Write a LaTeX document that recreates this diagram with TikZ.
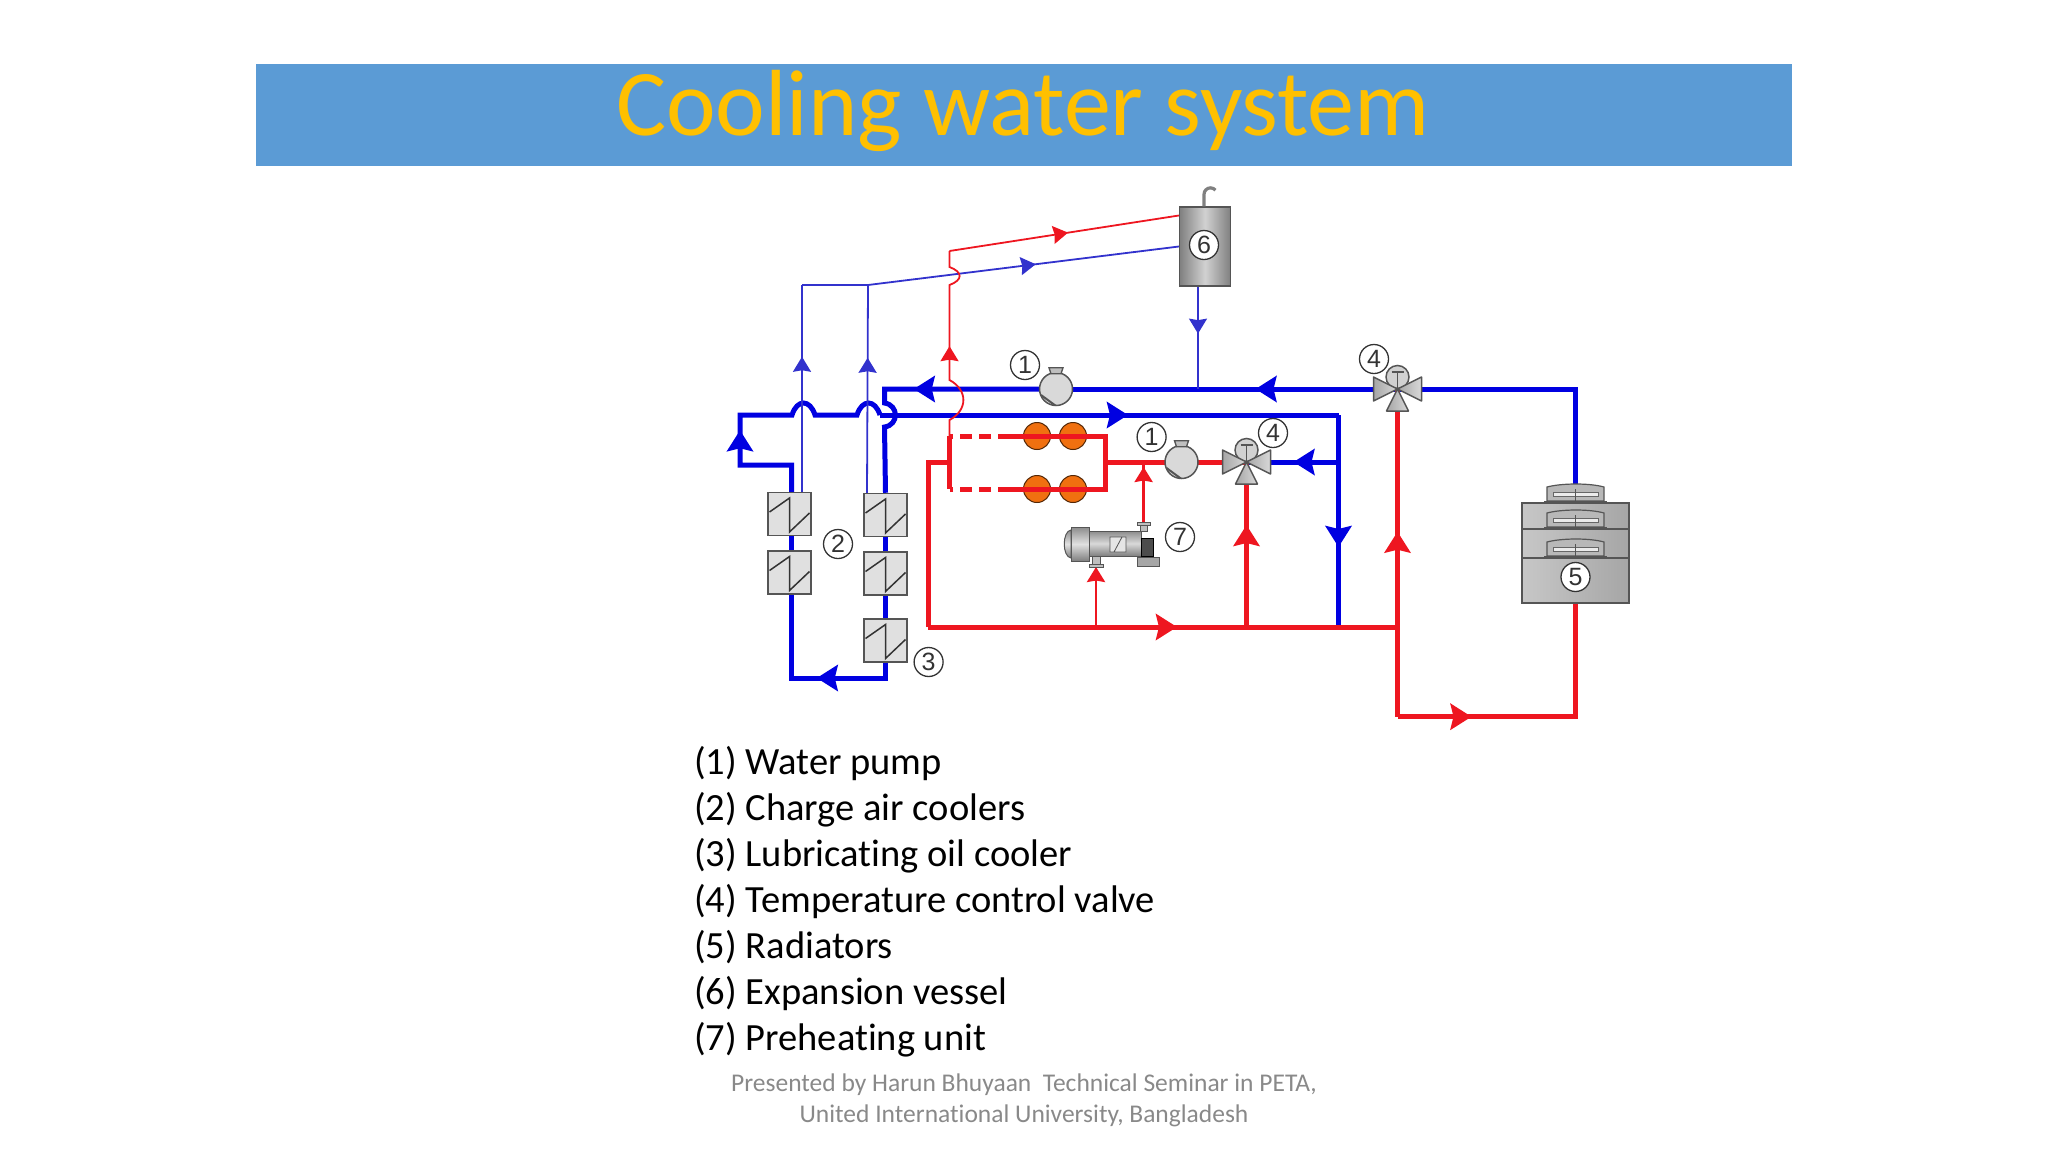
\documentclass[tikz,border=0pt]{standalone}
\usepackage{fontspec}
\setmainfont{Carlito}[Ligatures=NoCommon]
\newfontfamily\calloutfont{Liberation Sans}
\usepackage{tikz}
\usetikzlibrary{arrows.meta,backgrounds,decorations.markings}
\definecolor{HeaderBlue}{RGB}{91,155,213}
\definecolor{TitleGold}{RGB}{255,192,0}
\definecolor{PipeBlue}{RGB}{0,0,225}
\definecolor{PipeRed}{RGB}{238,22,32}
\definecolor{ThinBlue}{RGB}{50,50,205}
\definecolor{CylOrange}{RGB}{240,112,16}
\definecolor{FootGray}{RGB}{137,137,137}
\definecolor{Edge}{RGB}{85,85,85}

\begin{document}
\begin{tikzpicture}[x=1pt,y=-1pt,
  coldpipe/.style={draw=PipeBlue,line width=5pt,line join=miter},
  hotpipe/.style={draw=PipeRed,line width=5pt,line join=miter},
  coldthin/.style={draw=ThinBlue,line width=1.8pt},
  hotthin/.style={draw=PipeRed,line width=1.8pt},
  hotmid/.style={draw=PipeRed,line width=2.8pt},
  bigflow/.style={postaction={decorate,decoration={markings,mark=at position #1 with {\arrow{Stealth[length=21pt,width=26pt,inset=3pt]}}}}},
  smallflow/.style={postaction={decorate,decoration={markings,mark=at position #1 with {\arrow{Stealth[length=15pt,width=18pt,inset=1.5pt]}}}}},
  callout/.style={circle,draw=black!80,fill=white,line width=1.3pt,minimum size=29pt,inner sep=0pt,
                  font=\calloutfont\fontsize{25}{25}\selectfont,text=black!80},
  cooler/.style={draw=Edge,fill=black!12,line width=1.5pt,minimum width=43pt,minimum height=43pt,inner sep=0pt,
                 path picture={\draw[black!80,line width=1.5pt]
                   ([shift={(-20,-2)}]path picture bounding box.center) -- ([shift={(0,-16)}]path picture bounding box.center)
                   -- ([shift={(0,18)}]path picture bounding box.center) -- ([shift={(20,-1)}]path picture bounding box.center);}},
  pump/.style={circle,draw=Edge,fill=black!15,line width=1.5pt,minimum size=33pt,inner sep=0pt,
               path picture={\draw[Edge,line width=2pt]
                 ([shift={(-15,6)}]path picture bounding box.center) -- ([shift={(0,17)}]path picture bounding box.center);}},
  cylinder dot/.style={circle,draw=black!65!CylOrange,fill=CylOrange,line width=1pt,minimum size=27pt,inner sep=0pt},
  valve part/.style={draw=Edge,left color=black!35,right color=black!15,line width=1.5pt,line join=round},
  listtext/.style={anchor=north west,align=left,inner sep=0pt,font=\fontsize{38.5}{46}\selectfont},
]
\useasboundingbox (0,0) rectangle (2048,1152);

% header
\node[fill=HeaderBlue,minimum width=1536pt,minimum height=102pt,inner sep=0pt] (header) at (1024,115) {};
\node[text=TitleGold,font=\fontsize{94}{94}\selectfont,inner sep=0pt] (title) at (1023,110.5) {Cooling water system};

% equipment
\node[draw=Edge,line width=1.3pt,left color=black!50,right color=black!50,middle color=black!18,
      minimum width=51pt,minimum height=79pt,inner sep=0pt] (vessel) at (1205,246.5) {};
\node[callout] (call6) at (1204,245) {6};
\draw[black!50,line width=3.2pt] (vessel.north) ++(-1,0) -- ++(0,-12) arc (180:320:6.5);

\node[pump] (pumpHigh) at (1056,389) {};
\node[pump] (pumpLow) at (1181.5,462) {};
\foreach \p in {pumpHigh,pumpLow}
  \draw[draw=Edge,fill=black!25,line width=1.3pt] ([shift={(-5,2)}]\p.north) -- ([shift={(-7,-4)}]\p.north)
    -- ([shift={(7,-4)}]\p.north) -- ([shift={(5,2)}]\p.north) -- cycle;

\coordinate (valveHigh) at (1397.5,389);
\coordinate (valveLow) at (1246.5,462);
\foreach \v in {valveHigh,valveLow} {
  \draw[draw=Edge,fill=black!18,line width=1.5pt] ([yshift=12pt]\v) circle (11.5);
  \draw[Edge,line width=1.3pt] ([shift={(-6,-17)}]\v) -- ([shift={(6,-17)}]\v) ([shift={(0,-17)}]\v) -- (\v);
  \draw[valve part] (\v) -- ([shift={(-24,-12)}]\v) -- ([shift={(-24,12)}]\v) -- cycle;
  \draw[valve part] (\v) -- ([shift={(24,-12)}]\v) -- ([shift={(24,12)}]\v) -- cycle;
  \draw[valve part] (\v) -- ([shift={(-11,22)}]\v) -- ([shift={(11,22)}]\v) -- cycle;
}

\node[cooler] (coolerA) at (789.5,514) {};
\node[cooler] (coolerB) at (789.5,572.5) {};
\node[cooler] (coolerC) at (885.5,515) {};
\node[cooler] (coolerD) at (885.5,573.5) {};
\node[cooler] (coolerOil) at (885.5,640.5) {};

\node[draw=Edge,line width=1.3pt,left color=black!22,right color=black!35,
      minimum width=107pt,minimum height=100pt,inner sep=0pt] (radiator) at (1575.5,553) {};
\draw[Edge,line width=1.3pt] (1522,529) -- (1629,529) (1522,558) -- (1629,558);
\foreach \y in {503,529,558} {
  \draw[draw=Edge,fill=black!28,line width=1.2pt] (1547,\y-2) -- (1547,\y-16) .. controls (1562,\y-20) and (1590,\y-20) .. (1604,\y-16) -- (1604,\y-2) -- cycle;
  \draw[Edge,line width=2pt] (1544,\y-1) -- (1607,\y-1);
  \draw[draw=black!60,fill=black!8,line width=.6pt] (1553,\y-11) rectangle (1598,\y-7);
  \draw[Edge,line width=1pt] (1575.5,\y-14) -- (1575.5,\y-2);
}
\node[callout] (call5) at (1575.5,577) {5};

% preheater
\draw[draw=Edge,line width=1pt,top color=black!45,bottom color=black!50,middle color=black!15] (1085,531) rectangle (1141,556);
\draw[draw=Edge,line width=1pt,top color=black!45,bottom color=black!50,middle color=black!12] (1071,527) rectangle (1089,561);
\draw[draw=Edge,line width=1pt,top color=black!45,bottom color=black!50,middle color=black!12] (1071,530) .. controls (1062,531) and (1062,557) .. (1071,558) -- cycle;
\draw[Edge,fill=black!10,line width=.8pt] (1110,537) rectangle (1126,552) (1114,552) -- (1122,537);
\draw[draw=Edge,fill=black!35,line width=1pt] (1137,557) rectangle (1159,566);
\draw[draw=black,fill=black!70,line width=.8pt] (1141,538) rectangle (1153,556);
\draw[draw=Edge,fill=black!25,line width=1pt] (1140,525) rectangle (1147,531) (1137,522) rectangle (1150,525);
\draw[draw=Edge,fill=black!25,line width=1pt] (1092,556) rectangle (1100,564) (1089,564) rectangle (1103,567);
\coordinate (heaterIn) at (1096,567);
\coordinate (heaterOut) at (1143.6,522);

% callouts
\node[callout] (call1a) at (1025,365) {1};
\node[callout] (call1b) at (1151.6,437) {1};
\node[callout] (call4a) at (1374,359) {4};
\node[callout] (call4b) at (1273,433) {4};
\node[callout] (call2) at (838,544) {2};
\node[callout] (call3) at (928.6,662) {3};
\node[callout] (call7) at (1180,537) {7};

% pipes stay behind the equipment
\begin{scope}[on background layer]
  \coordinate (topBend) at (884.5,389);
  \coordinate (bumpIn) at (884.5,403);
  \coordinate (bumpOut) at (884.5,427);
  \coordinate (leftLow) at (740,465);
  \coordinate (leftTop) at (740,415);
  \coordinate (midLeft) at (880,415);
  \coordinate (midRight) at (1338.5,415);
  \coordinate (midTee) at (1338.5,462);
  \coordinate (midFoot) at (1338.5,627);
  \coordinate (bottomBend) at (885.5,678);
  \coordinate (thinA) at (802,285);
  \coordinate (thinB) at (868,285);
  \coordinate (hotLeft) at (928,627);
  \coordinate (hotElbow) at (928,462);
  \coordinate (hotTee) at (949.5,462);
  \coordinate (rackTL) at (949.5,436);
  \coordinate (rackBL) at (949.5,489);
  \coordinate (rackTR) at (1105,436);
  \coordinate (rackBR) at (1105,489);
  \coordinate (riserFoot) at (1397.5,716.7);
  \coordinate (riserTee) at (1397.5,627);
  \coordinate (hotCorner) at (949.5,251);

  % cylinders
  \foreach \x/\n in {1037/a,1073/b} {
    \node[cylinder dot] (cylTop\n) at (\x,436) {};
    \node[cylinder dot] (cylLow\n) at (\x,489) {};
  }

  % cold side
  \draw[coldpipe] (radiator.north) |- (valveHigh);
  \draw[coldpipe,bigflow=142pt] (valveHigh) -- (pumpHigh);
  \draw[coldpipe,bigflow=125pt] (pumpHigh) -- (topBend) -- (bumpIn)
    .. controls (899,405) and (899,425) .. (bumpOut) -- (coolerC.north);
  \draw[coldpipe,bigflow=113pt] ([xshift=2pt]coolerA.north) |- (leftLow) -- (leftTop) -- (792,415)
    .. controls (797,399) and (810,399) .. (815,415) -- (857,415)
    .. controls (862,399) and (875,399) .. (midLeft);
  \draw[coldpipe,bigflow=248pt] (midLeft) -- (midRight);
  \draw[coldpipe,bigflow=132pt] (midRight) -- (midFoot);
  \draw[coldpipe,bigflow=45pt] (midTee) -- (valveLow);
  \draw[coldpipe] ([xshift=2pt]coolerA.south) -- ([xshift=2pt]coolerB.north);
  \draw[coldpipe] (coolerC) -- (coolerD);
  \draw[coldpipe] (coolerD) -- (coolerOil);
  \draw[coldpipe,bigflow=84pt] (coolerOil.south) -- (bottomBend) -| ([xshift=2pt]coolerB.south);
  \draw[coldthin,smallflow=135pt] ([xshift=12.5pt]coolerA.north) -- (thinA);
  \draw[coldthin,smallflow=135pt] ([xshift=-18.5pt]coolerC.north) -- (thinA -| thinB);
  \draw[coldthin,smallflow=235pt] (thinA) -- (thinB) -- (vessel.west);
  \draw[coldthin,smallflow=47pt] ([xshift=-7pt]vessel.south) -- ([xshift=-7pt]vessel.south |- topBend);

  % hot side
  \draw[hotpipe,bigflow=74pt] (riserFoot) -| (radiator.south);
  \draw[hotpipe,bigflow=185pt] (riserFoot) -- (valveHigh);
  \draw[hotpipe,bigflow=249pt] (hotLeft) -- (riserTee);
  \draw[hotpipe] (hotLeft) -- (hotElbow) -- (hotTee);
  \draw[hotpipe,bigflow=102pt] (valveLow |- hotLeft) -- (valveLow);
  \draw[hotpipe] (rackTL) -- (rackBL);
  \draw[hotpipe] (1010,436) -- (rackTR) -- (rackBR) -- (1010,489);
  \draw[hotpipe,dash pattern=on 12pt off 7pt] (1010,436) -- (rackTL);
  \draw[hotpipe,dash pattern=on 12pt off 7pt] (1010,489) -- (rackBL);
  \draw[hotpipe] (rackBR |- hotTee) -- (valveLow);
  \draw[hotmid,smallflow=60pt] (heaterIn |- hotLeft) -- (heaterIn);
  \draw[hotmid,smallflow=55pt] (heaterOut) -- (heaterOut |- hotTee);
  \draw[hotthin,smallflow=101pt] (rackTL) -- (949.5,420)
    .. controls (968,410) and (968,390) .. (949.5,380) -- (949.5,285)
    .. controls (963,280) and (963,272) .. (949.5,267) -- (hotCorner);
  \draw[hotthin,smallflow=120pt] (hotCorner) -- ([yshift=31pt]vessel.west);
\end{scope}

% legend
\node[listtext] (legend) at (694,746) {(1) Water pump\\(2) Charge air coolers\\(3) Lubricating oil cooler\\(4) Temperature control valve\\(5) Radiators\\(6) Expansion vessel\\(7) Preheating unit};
\node[text=FootGray,align=center,inner sep=0pt,font=\fontsize{25.5}{30.5}\selectfont] (footer) at (1024,1100.5)
  {Presented by Harun Bhuyaan\ \ Technical Seminar in PETA,\\United International University, Bangladesh};
\end{tikzpicture}
\end{document}
